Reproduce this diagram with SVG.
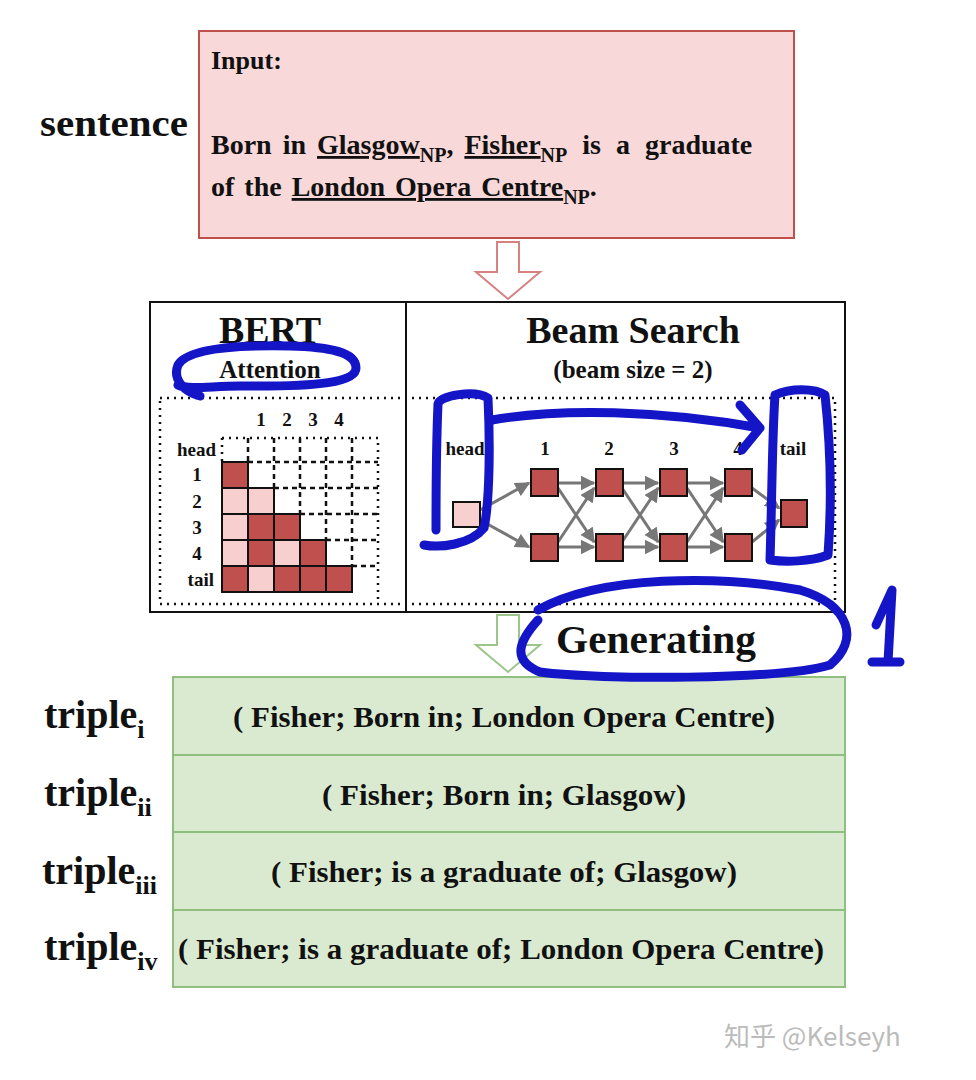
<svg xmlns="http://www.w3.org/2000/svg" width="976" height="1080" viewBox="0 0 976 1080">
<defs>
<style>
text{font-family:"Liberation Serif","Times New Roman",serif;font-weight:bold;fill:#111}
.d{fill:#c0504d;stroke:#111;stroke-width:2}
.l{fill:#f7cfcf;stroke:#111;stroke-width:2}
.dot{fill:none;stroke:#111;stroke-width:2.5;stroke-dasharray:2,5}
.dash{fill:none;stroke:#111;stroke-width:2.5;stroke-dasharray:5,4}
.c{stroke:#777;stroke-width:3;fill:none;marker-end:url(#ah)}
.blue{fill:none;stroke:#1515c8;stroke-width:9;stroke-linecap:round;stroke-linejoin:round}
.g{fill:#d9ead0;stroke:#8fbf7f;stroke-width:2}
</style>
<marker id="ah" viewBox="0 0 10 10" refX="9" refY="5" markerWidth="5" markerHeight="5" orient="auto"><path d="M0,0L10,5L0,10z" fill="#777"/></marker>
</defs>
<rect width="976" height="1080" fill="#fff"/>
<g id="sentence">
<text x="40" y="136" font-size="38" textLength="148" lengthAdjust="spacingAndGlyphs">sentence</text>
<rect x="199" y="31" width="595" height="207" fill="#f8d8d8" stroke="#c0504d" stroke-width="2"/>
<text x="211" y="69" font-size="26">Input:</text>
<text x="211" y="154" font-size="28" word-spacing="4">Born in <tspan text-decoration="underline">Glasgow</tspan><tspan font-size="20" dy="8">NP</tspan><tspan dy="-8">, </tspan><tspan text-decoration="underline">Fisher</tspan><tspan font-size="20" dy="8">NP</tspan><tspan dy="-8" word-spacing="8"> is a graduate</tspan></text>
<text x="211" y="196" font-size="28" word-spacing="3">of the <tspan text-decoration="underline">London Opera Centre</tspan><tspan font-size="20" dy="8">NP</tspan><tspan dy="-8">.</tspan></text>
</g>
<g id="arrow1"><path d="M497,242H519V272H540L508,299L476,272H497Z" fill="#fff" stroke="#d98080" stroke-width="2"/></g>
<g id="model">
<rect x="150" y="302" width="695" height="310" fill="#fff" stroke="#111" stroke-width="2"/>
<line x1="406" y1="302" x2="406" y2="612" stroke="#111" stroke-width="2"/>
<rect x="160" y="398" width="675" height="206" class="dot"/>
<text x="270" y="343" font-size="38" text-anchor="middle">BERT</text>
<text x="270" y="378" font-size="25" text-anchor="middle">Attention</text>
<text x="633" y="343" font-size="38" text-anchor="middle">Beam Search</text>
<text x="633" y="378" font-size="25" text-anchor="middle">(beam size = 2)</text>
</g>
<g id="attention">
<text x="261" y="426" font-size="19" text-anchor="middle">1</text>
<text x="287" y="426" font-size="19" text-anchor="middle">2</text>
<text x="313" y="426" font-size="19" text-anchor="middle">3</text>
<text x="339" y="426" font-size="19" text-anchor="middle">4</text>
<text x="216" y="456" font-size="19" text-anchor="end">head</text>
<text x="197" y="481" font-size="19" text-anchor="middle">1</text>
<text x="197" y="508" font-size="19" text-anchor="middle">2</text>
<text x="197" y="534" font-size="19" text-anchor="middle">3</text>
<text x="197" y="560" font-size="19" text-anchor="middle">4</text>
<text x="214" y="586" font-size="19" text-anchor="end">tail</text>
<path class="dot" d="M222,438H378V604M222,438V462"/>
<path class="dash" d="M248,438V462M274,438V488M300,438V514M326,438V540M352,438V566M248,462H378M274,488H378M300,514H378M326,540H378M352,566H378"/>
<rect class="d" x="222" y="462" width="26" height="26"/>
<rect class="l" x="222" y="488" width="26" height="26"/><rect class="l" x="248" y="488" width="26" height="26"/>
<rect class="l" x="222" y="514" width="26" height="26"/><rect class="d" x="248" y="514" width="26" height="26"/><rect class="d" x="274" y="514" width="26" height="26"/>
<rect class="l" x="222" y="540" width="26" height="26"/><rect class="d" x="248" y="540" width="26" height="26"/><rect class="l" x="274" y="540" width="26" height="26"/><rect class="d" x="300" y="540" width="26" height="26"/>
<rect class="d" x="222" y="566" width="26" height="26"/><rect class="l" x="248" y="566" width="26" height="26"/><rect class="d" x="274" y="566" width="26" height="26"/><rect class="d" x="300" y="566" width="26" height="26"/><rect class="d" x="326" y="566" width="26" height="26"/>
</g>
<g id="connectors">
<path class="c" d="M480,510L529,483"/><path class="c" d="M480,520L529,547"/>
<path class="c" d="M558,483H594"/><path class="c" d="M558,547H594"/><path class="c" d="M558,488L594,542"/><path class="c" d="M558,542L594,488"/>
<path class="c" d="M622,483H658"/><path class="c" d="M622,547H658"/><path class="c" d="M622,488L658,542"/><path class="c" d="M622,542L658,488"/>
<path class="c" d="M687,483H723"/><path class="c" d="M687,547H723"/><path class="c" d="M687,488L723,542"/><path class="c" d="M687,542L723,488"/>
<path class="c" d="M752,488L779,508"/><path class="c" d="M752,542L779,520"/>
</g>
<g id="beam">
<text x="465" y="455" font-size="19" text-anchor="middle">head</text>
<text x="545" y="455" font-size="19" text-anchor="middle">1</text>
<text x="609" y="455" font-size="19" text-anchor="middle">2</text>
<text x="674" y="455" font-size="19" text-anchor="middle">3</text>
<text x="738" y="455" font-size="19" text-anchor="middle">4</text>
<text x="793" y="455" font-size="19" text-anchor="middle">tail</text>
<rect class="l" x="453" y="502" width="27" height="25"/>
<rect class="d" x="531" y="469" width="27" height="27"/><rect class="d" x="596" y="469" width="27" height="27"/><rect class="d" x="660" y="469" width="27" height="27"/><rect class="d" x="725" y="469" width="27" height="27"/>
<rect class="d" x="531" y="534" width="27" height="27"/><rect class="d" x="596" y="534" width="27" height="27"/><rect class="d" x="660" y="534" width="27" height="27"/><rect class="d" x="725" y="534" width="27" height="27"/>
<rect class="d" x="781" y="500" width="26" height="27"/>
</g>
<g id="arrow2"><path d="M497,615H519V645H540L508,672L476,645H497Z" fill="#fff" stroke="#9bc58a" stroke-width="2"/></g>
<g id="triples">
<rect class="g" x="173" y="677" width="672" height="78"/>
<rect class="g" x="173" y="755" width="672" height="77"/>
<rect class="g" x="173" y="832" width="672" height="78"/>
<rect class="g" x="173" y="910" width="672" height="77"/>
<text x="233" y="727" font-size="29" textLength="542" lengthAdjust="spacingAndGlyphs">( Fisher; Born in; London Opera Centre)</text>
<text x="322" y="805" font-size="29" textLength="364" lengthAdjust="spacingAndGlyphs">( Fisher; Born in; Glasgow)</text>
<text x="271" y="882" font-size="29" textLength="466" lengthAdjust="spacingAndGlyphs">( Fisher; is a graduate of; Glasgow)</text>
<text x="178" y="959" font-size="29" textLength="646" lengthAdjust="spacingAndGlyphs">( Fisher; is a graduate of; London Opera Centre)</text>
<text x="44" y="728" font-size="40">triple<tspan font-size="26" dy="10">i</tspan></text>
<text x="44" y="806" font-size="40">triple<tspan font-size="26" dy="10">ii</tspan></text>
<text x="42" y="884" font-size="40">triple<tspan font-size="26" dy="10">iii</tspan></text>
<text x="44" y="960" font-size="40">triple<tspan font-size="26" dy="10">iv</tspan></text>
</g>
<text x="556" y="653" font-size="40" textLength="200" lengthAdjust="spacingAndGlyphs">Generating</text>
<g id="annotations">
<path class="blue" d="M200,396C185,392 172,380 178,365C188,348 240,345 290,346C330,347 356,352 356,368C356,382 320,387 240,386C210,386 190,390 178,385"/>
<path class="blue" d="M438,404C440,395 475,390 488,398C490,440 490,500 484,528C470,545 440,548 424,545M438,404C436,450 436,500 436,530"/>
<path class="blue" d="M492,420C560,408 660,410 760,428M740,405L760,428L742,450"/>
<path class="blue" d="M775,395C790,388 815,388 825,395C830,440 832,500 828,555C810,562 785,562 770,560C772,500 772,440 775,395"/>
<path class="blue" d="M538,610C600,575 720,575 800,590C850,605 860,640 830,665C780,680 600,680 540,672C510,660 520,640 538,620"/>
<path class="blue" d="M876,625L892,590L888,662M872,662H900"/>
</g>
<text x="724" y="1046" font-size="26" style="font-family:'Noto Sans CJK SC','Liberation Sans',sans-serif;font-weight:normal;fill:#bbb">知乎 @Kelseyh</text>
</svg>
